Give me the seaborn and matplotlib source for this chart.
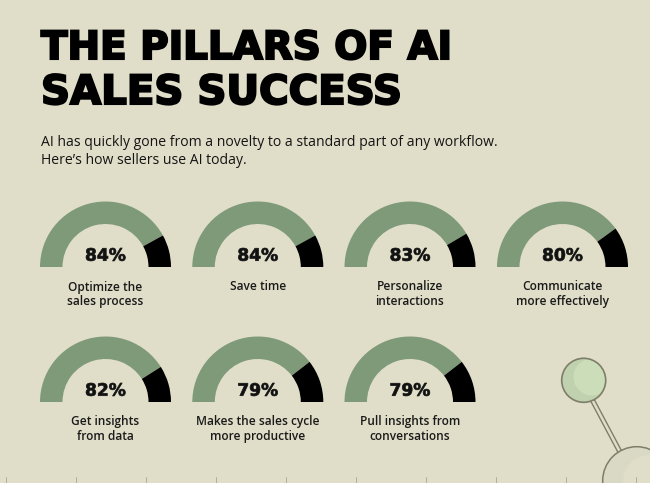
import matplotlib
matplotlib.use("Agg")
import matplotlib.pyplot as plt
import matplotlib.patheffects as pe
from matplotlib.patches import Circle
import seaborn as sns

BG = "#E0DEC9"
GREEN = "#7F9A78"
BLACK = "#000000"

sns.set_theme(style="white", rc={"figure.facecolor": BG, "axes.facecolor": "none"})

title_lines = ["THE PILLARS OF AI", "SALES SUCCESS"]
intro_lines = ["AI has quickly gone from a novelty to a standard part of any workflow.",
               "Here\u2019s how sellers use AI today."]
labels = ["Optimize the\nsales process", "Save time", "Personalize\ninteractions",
          "Communicate\nmore effectively", "Get insights\nfrom data",
          "Makes the sales cycle\nmore productive", "Pull insights from\nconversations"]
values = [84, 84, 83, 80, 82, 79, 79]

W, H = 650, 483
fig = plt.figure(figsize=(W / 100, H / 100), dpi=100)

# full figure axes in pixel coords for text and decoration
bg = fig.add_axes([0, 0, 1, 1])
bg.set_xlim(0, W)
bg.set_ylim(H, 0)
bg.axis("off")

for line, y, size in zip(title_lines, [59, 104], [28, 29]):
    bg.text(41, y, line, fontsize=size, fontweight="bold", family="DejaVu Sans", color=BLACK,
            va="baseline", ha="left",
            path_effects=[pe.Stroke(linewidth=1.5, foreground=BLACK, joinstyle="miter")])

for line, y in zip(intro_lines, [143, 161]):
    bg.text(41, y, line, fontsize=10.1, family="Open Sans", color="#141414", va="center", ha="left")

centers_x = [105.5, 257.8, 410, 562.5]
base_y = [267, 402]
R = 65.5
inner = 43

for i, (val, lab) in enumerate(zip(values, labels)):
    cx = centers_x[i % 4]
    by = base_y[i // 4]
    ax = fig.add_axes([(cx - R) / W, 1 - (by + R) / H, 2 * R / W, 2 * R / H])
    ax.pie([val, 100 - val, 100], colors=[GREEN, BLACK, "none"], startangle=180, counterclock=False,
           radius=1, wedgeprops={"width": 1 - inner / R, "linewidth": 0})
    ax.set_xlim(-1, 1)
    ax.set_ylim(-1, 1)

    bg.text(cx, by - 6.3, f"{val}%", fontsize=12.3, fontweight="bold", family="DejaVu Sans",
            color="#111111", ha="center", va="baseline",
            path_effects=[pe.Stroke(linewidth=0.5, foreground="#111111")])
    bg.text(cx, by + 13.5, lab, fontsize=8.6, fontweight="semibold", family="Open Sans", color="#1a1a1a",
            ha="center", va="top", linespacing=1.12)

# magnifier decoration, bottom right
EDGE = "#7E7E68"
for dx in [-1.7, 1.7]:
    bg.plot([592.7 + dx, 619.3 + dx], [400.7 - dx * 0.55, 450.7 - dx * 0.55], color=EDGE, lw=1.0)

big = Circle((636.7, 480.7), 34, fc="#DAD9C5", ec="none")
bg.add_patch(big)
big_light = Circle((650, 482), 27, fc="#E0DEC9", ec="none")
bg.add_patch(big_light)
big_light.set_clip_path(big)

lens = Circle((583.7, 380.3), 22, fc="#BFD1AE", ec="none")
bg.add_patch(lens)
lens_light = Circle((592, 377), 18.5, fc="#CBDEB9", ec="none")
bg.add_patch(lens_light)
lens_light.set_clip_path(lens)
bg.add_patch(Circle((583.7, 380.3), 22, fc="none", ec=EDGE, lw=1.2))
bg.add_patch(Circle((636.7, 480.7), 34, fc="none", ec=EDGE, lw=1.1))

# ruler ticks along the bottom edge
for x in [6, 76, 146, 216, 286, 356, 426, 496, 566, 636]:
    bg.plot([x, x], [477, H], color="#B0AF9C", lw=0.7)
bg.set_zorder(2)

fig.savefig("out.png", dpi=100, facecolor=BG)
